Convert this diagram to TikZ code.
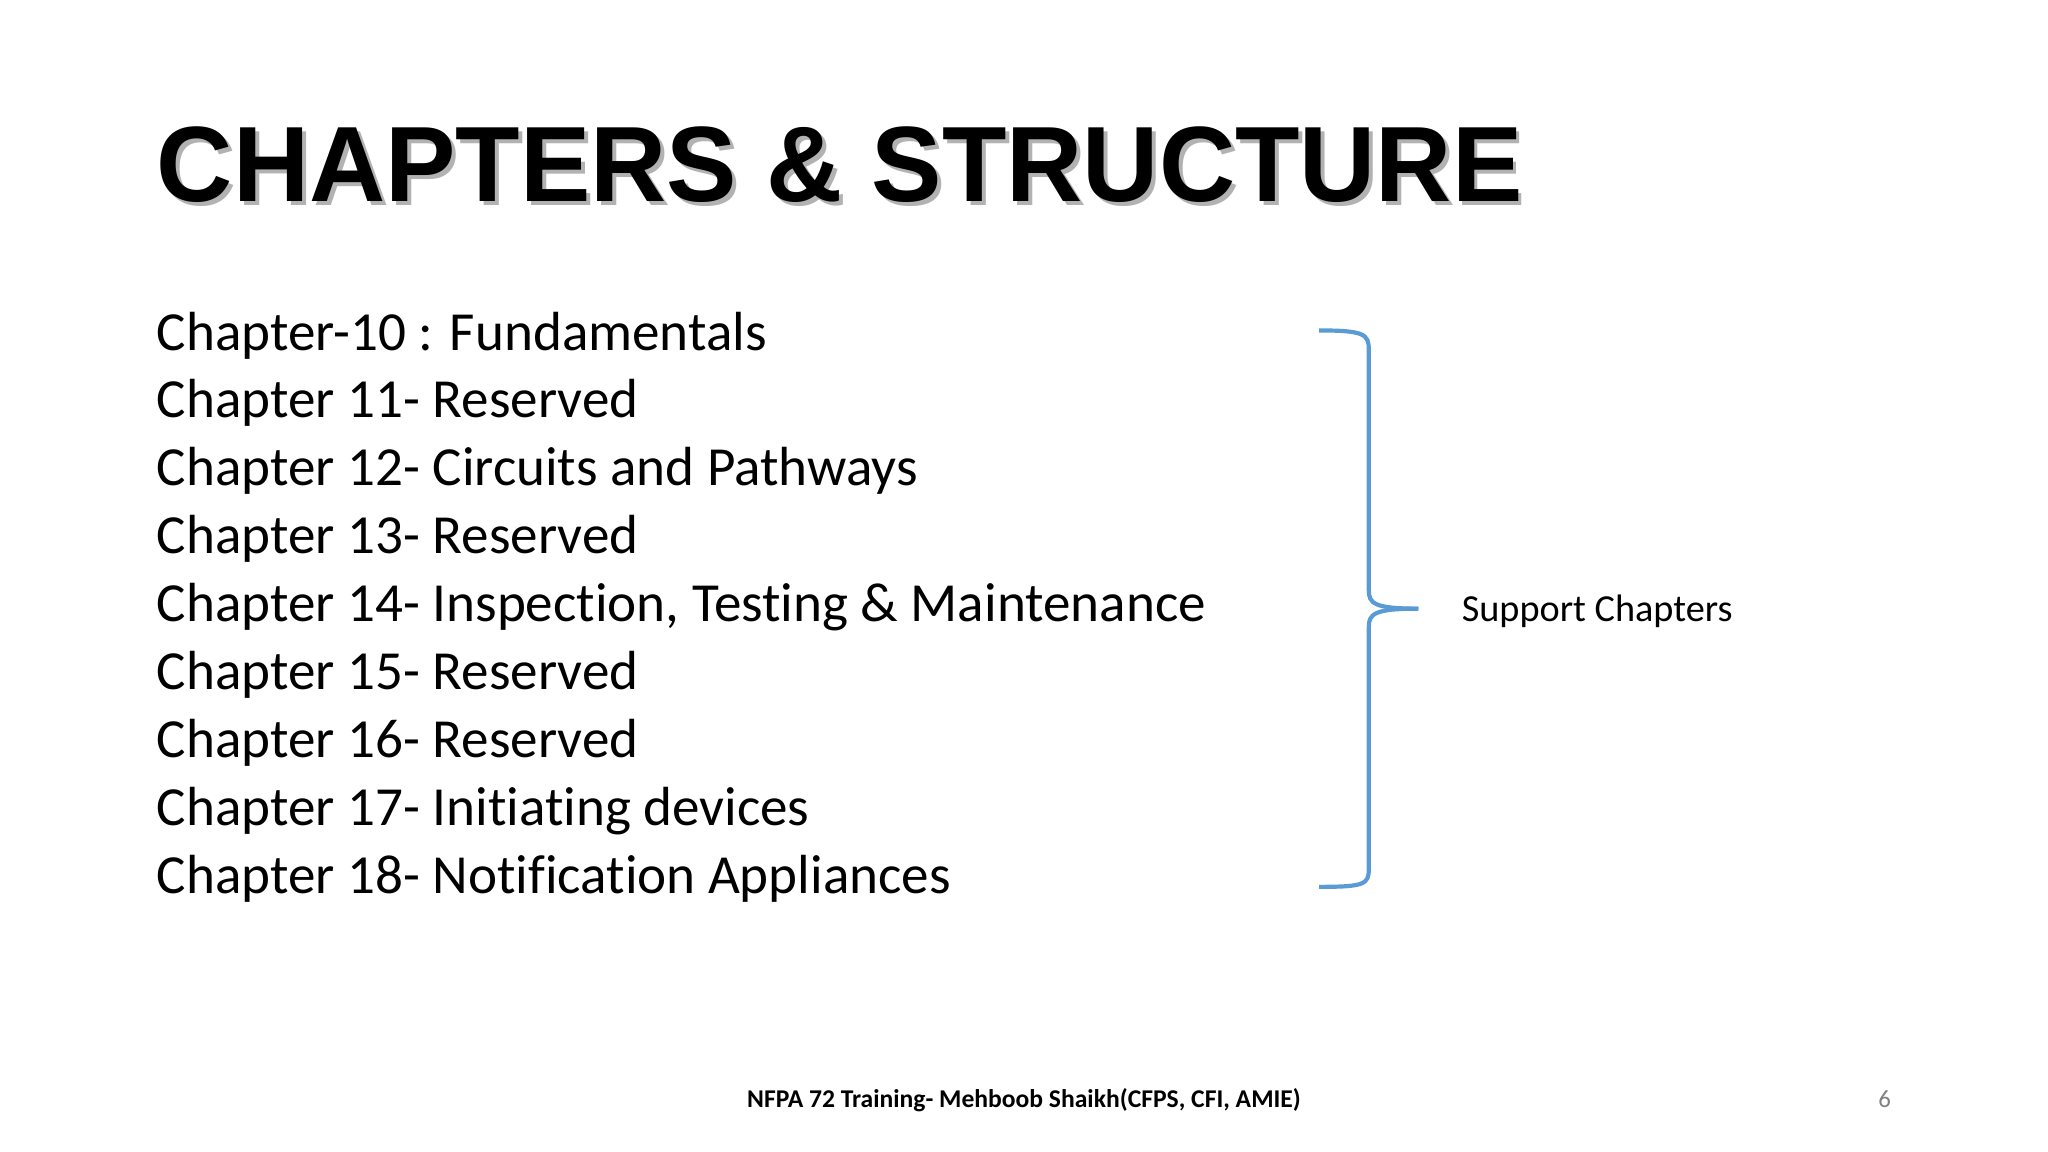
\documentclass[tikz,border=0pt]{standalone}
\usepackage{fontspec}
\setmainfont{Carlito}[Ligatures={NoCommon}]
\newfontfamily\titlefont{Liberation Sans}
\definecolor{bracecol}{HTML}{5B9BD5}
\begin{document}
\begin{tikzpicture}[x=1pt,y=-1pt,
  line/.style={anchor=base west,inner sep=0pt,font=\fontsize{42.2}{42}\selectfont},
  brace/.style={draw=bracecol,line width=3.2pt}]
\useasboundingbox[fill=white] (0,0) rectangle (1568,882);
\node[anchor=base west,inner sep=0pt,text=gray!60,xscale=0.985] at (123,157) {\titlefont\bfseries\fontsize{82}{82}\selectfont CHAPTERS \& STRUCTURE};
\node[anchor=base west,inner sep=0pt,xscale=0.985] (title) at (120,154) {\titlefont\bfseries\fontsize{82}{82}\selectfont CHAPTERS \& STRUCTURE};
\foreach \t [count=\i from 0] in {Chapter-10 : Fundamentals,Chapter 11- Reserved,Chapter 12- Circuits and Pathways,Chapter 13- Reserved,Chapter 14- Inspection{,} Testing \& Maintenance,Chapter 15- Reserved,Chapter 16- Reserved,Chapter 17- Initiating devices,Chapter 18- Notification Appliances}
  \node[line] (c\i) at (120,{268+52*\i}) {\t};
\coordinate (bt) at (1010,253);
\coordinate (bb) at (1010,679);
\coordinate (tip) at (1086,466);
\draw[brace] (bt) .. controls (1045,253) and (1048,256) .. (1048,268) -- (1048,452)
  .. controls (1048,462) and (1052,466) .. (tip);
\draw[brace] (tip) .. controls (1052,466) and (1048,470) .. (1048,480) -- (1048,665)
  .. controls (1048,677) and (1045,679) .. (bb);
\node[anchor=base west,inner sep=0pt,font=\fontsize{29.3}{29}\selectfont] (sup) at (1119,476) {Support Chapters};
\node[anchor=base,inner sep=0pt,font=\bfseries\fontsize{19.6}{19}\selectfont] (foot) at (784,848) {NFPA 72 Training- Mehboob Shaikh(CFPS, CFI, AMIE)};
\node[anchor=base,inner sep=0pt,text=gray,font=\fontsize{19}{19}\selectfont] (num) at (1443,848) {6};
\end{tikzpicture}
\end{document}
